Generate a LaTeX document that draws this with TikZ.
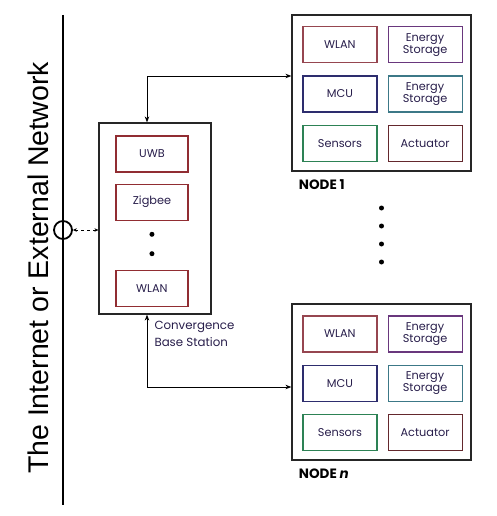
\documentclass[tikz,border=0pt]{standalone}
\usepackage{fontspec}
\setmainfont{Liberation Sans}
\newfontfamily\labelfont{Poppins}
\usepackage{xcolor}
\usetikzlibrary{positioning}
\usetikzlibrary{arrows.meta}

\definecolor{radioline}{RGB}{145,45,50}
\definecolor{wlanline}{RGB}{150,70,80}
\definecolor{storeline}{RGB}{105,55,125}
\definecolor{mculine}{RGB}{45,45,110}
\definecolor{cellline}{RGB}{60,120,135}
\definecolor{sensline}{RGB}{45,130,85}
\definecolor{actline}{RGB}{100,40,45}
\definecolor{labeltext}{RGB}{40,30,75}

\begin{document}
\begin{tikzpicture}[x=1pt, y=-1pt,
outerbox/.style={rectangle, draw=black!85, line width=1.2pt, minimum width=179pt, minimum height=156pt, inner sep=0pt},
partbox/.style={rectangle, draw, line width=1.1pt, minimum width=74pt, minimum height=36pt, inner sep=0pt, align=center, text=labeltext, font=\labelfont\fontsize{11.3}{12.5}\selectfont},
radiobox/.style={partbox, draw=radioline, minimum width=72pt},
smalldot/.style={circle, fill=black, inner sep=0pt, minimum size=5pt},
link/.style={line width=0.8pt, {Stealth[length=6pt,width=4.5pt]}-{Stealth[length=6pt,width=4.5pt]}}]
\useasboundingbox (0,0) rectangle (496,516);

% the network line
\coordinate (nettop) at (63,15);
\coordinate (netbot) at (63,505);
\draw[line width=2.5pt] (nettop) -- (netbot);
\node[circle, draw, line width=1.8pt, minimum size=18pt, inner sep=0pt] (gw) at (63,230) {};
\node[rotate=90, font=\fontsize{28.5}{30}\selectfont] (netlabel) at (38,268) {The Internet or External Network};

% convergence base station
\node[outerbox, minimum width=112pt, minimum height=191pt] (bs) at (155,218.5) {};
\node[radiobox] (uwb) [below right=13pt and 17pt of bs.north west] {UWB};
\node[radiobox] (zigbee) [below=11pt of uwb] {Zigbee};
\node[smalldot] (bsdot1) [below=11pt of zigbee] {};
\node[smalldot] (bsdot2) [below=14pt of bsdot1] {};
\node[radiobox] (bswlan) [below=49pt of zigbee] {WLAN};
\node[anchor=north west, align=left, text=labeltext, font=\labelfont\fontsize{11.8}{17}\selectfont] (bslabel) [below right=3pt and -4pt of bs.south] {Convergence\\Base Station};

% node 1
\node[outerbox] (n1) at (381.5,93) {};
\node[partbox, draw=wlanline] (wlan1) [below right=12pt and 11pt of n1.north west] {WLAN};
\node[partbox, draw=storeline] (store1) [right=10pt of wlan1] {Energy\\Storage};
\node[partbox, draw=mculine] (mcu1) [below=12pt of wlan1] {MCU};
\node[partbox, draw=cellline] (cell1) [right=10pt of mcu1] {Energy\\Storage};
\node[partbox, draw=sensline] (sens1) [below=12pt of mcu1] {Sensors};
\node[partbox, draw=actline] (act1) [right=10pt of sens1] {Actuator};
\node[anchor=north west, font=\labelfont\bfseries\fontsize{13.5}{15}\selectfont] (n1label) [below right=5pt and 4pt of n1.south west] {NODE 1};

% dots between the nodes
\node[smalldot] (vdot1) at (381.5,208) {};
\node[smalldot] (vdot2) at (381.5,226) {};
\node[smalldot] (vdot3) at (381.5,244) {};
\node[smalldot] (vdot4) at (381.5,262) {};

% node n
\node[outerbox] (nn) at (381.5,382) {};
\node[partbox, draw=wlanline] (wlann) [below right=12pt and 11pt of nn.north west] {WLAN};
\node[partbox, draw=storeline] (storen) [right=10pt of wlann] {Energy\\Storage};
\node[partbox, draw=mculine] (mcun) [below=12pt of wlann] {MCU};
\node[partbox, draw=cellline] (celln) [right=10pt of mcun] {Energy\\Storage};
\node[partbox, draw=sensline] (sensn) [below=12pt of mcun] {Sensors};
\node[partbox, draw=actline] (actn) [right=10pt of sensn] {Actuator};
\node[anchor=north west, font=\labelfont\bfseries\fontsize{13.5}{15}\selectfont] (nnlabel) [below right=5pt and 4pt of nn.south west] {NODE \textit{n}};

% links
\draw[link] ([xshift=-8pt]bs.north) |- ([yshift=17pt]n1.west);
\draw[link] ([xshift=-8pt]bs.south) |- ([yshift=-5pt]nn.west);
\draw[dashed, line width=0.8pt, {Stealth[length=4pt,width=3.5pt]}-{Stealth[length=4pt,width=3.5pt]}] (gw.east) -- (bs.west |- gw.east);
\end{tikzpicture}
\end{document}
